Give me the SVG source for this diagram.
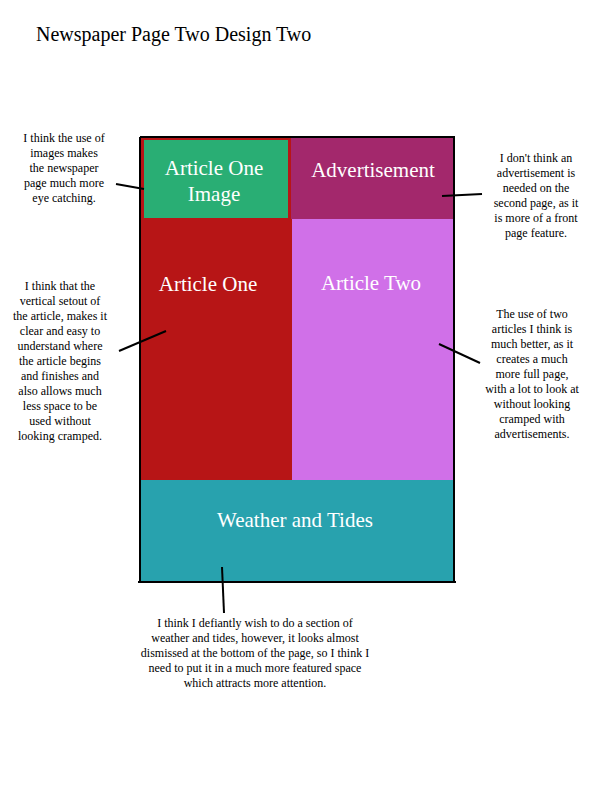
<svg xmlns="http://www.w3.org/2000/svg" width="600" height="800" viewBox="0 0 600 800">
<style>
.t{font-family:"Liberation Serif","DejaVu Serif",serif;}
.n{font-size:12px;fill:#000;text-anchor:middle}
.w{font-size:21px;fill:#fff;text-anchor:middle}
.c{stroke:#000;stroke-width:2;fill:none}
</style>
<rect width="600" height="800" fill="#fff"/>
<text class="t" x="36" y="41" font-size="20">Newspaper Page Two Design Two</text>
<g id="article-one"><rect x="140" y="137" width="152" height="343" fill="#b71516"/><text class="t w" x="208" y="291">Article One</text></g>
<g id="article-one-image"><rect x="143" y="139" width="146" height="80" fill="#29ae74" stroke="#b71516" stroke-width="2"/><text class="t w" x="214" y="175">Article One</text><text class="t w" x="214" y="201">Image</text></g>
<g id="advertisement"><rect x="291" y="137" width="163" height="82" fill="#a3286c"/><text class="t w" x="373" y="177">Advertisement</text></g>
<g id="article-two"><rect x="292" y="219" width="161" height="261" fill="#d070e8"/><text class="t w" x="371" y="290">Article Two</text></g>
<g id="weather"><rect x="140" y="480" width="313" height="101" fill="#28a2ae"/><text class="t w" x="295" y="527">Weather and Tides</text></g>
<g id="frame"><path d="M140 137V581M140 137H454V582M138 582H456" class="c"/></g>
<g id="connectors">
<path class="c" d="M116 184L144 189"/>
<path class="c" d="M442 196L482 194"/>
<path class="c" d="M119 351L166 331"/>
<path class="c" d="M439 344L480 363"/>
<path class="c" d="M222 567L224 613"/>
</g>
<g id="notes" class="t n">
<text x="64" y="142">I think the use of</text><text x="64" y="157">images makes</text><text x="64" y="172">the newspaper</text><text x="64" y="187">page much more</text><text x="64" y="202">eye catching.</text>
<text x="536" y="162">I don't think an</text><text x="536" y="177">advertisement is</text><text x="536" y="192">needed on the</text><text x="536" y="207">second page, as it</text><text x="536" y="222">is more of a front</text><text x="536" y="237">page feature.</text>
<text x="60" y="290">I think that the</text><text x="60" y="305">vertical setout of</text><text x="60" y="320">the article, makes it</text><text x="60" y="335">clear and easy to</text><text x="60" y="350">understand where</text><text x="60" y="365">the article begins</text><text x="60" y="380">and finishes and</text><text x="60" y="395">also allows much</text><text x="60" y="410">less space to be</text><text x="60" y="425">used without</text><text x="60" y="440">looking cramped.</text>
<text x="532" y="318">The use of two</text><text x="532" y="333">articles I think is</text><text x="532" y="348">much better, as it</text><text x="532" y="363">creates a much</text><text x="532" y="378">more full page,</text><text x="532" y="393">with a lot to look at</text><text x="532" y="408">without looking</text><text x="532" y="423">cramped with</text><text x="532" y="438">advertisements.</text>
<text x="255" y="627">I think I defiantly wish to do a section of</text><text x="255" y="642">weather and tides, however, it looks almost</text><text x="255" y="657">dismissed at the bottom of the page, so I think I</text><text x="255" y="672">need to put it in a much more featured space</text><text x="255" y="687">which attracts more attention.</text>
</g>
</svg>
